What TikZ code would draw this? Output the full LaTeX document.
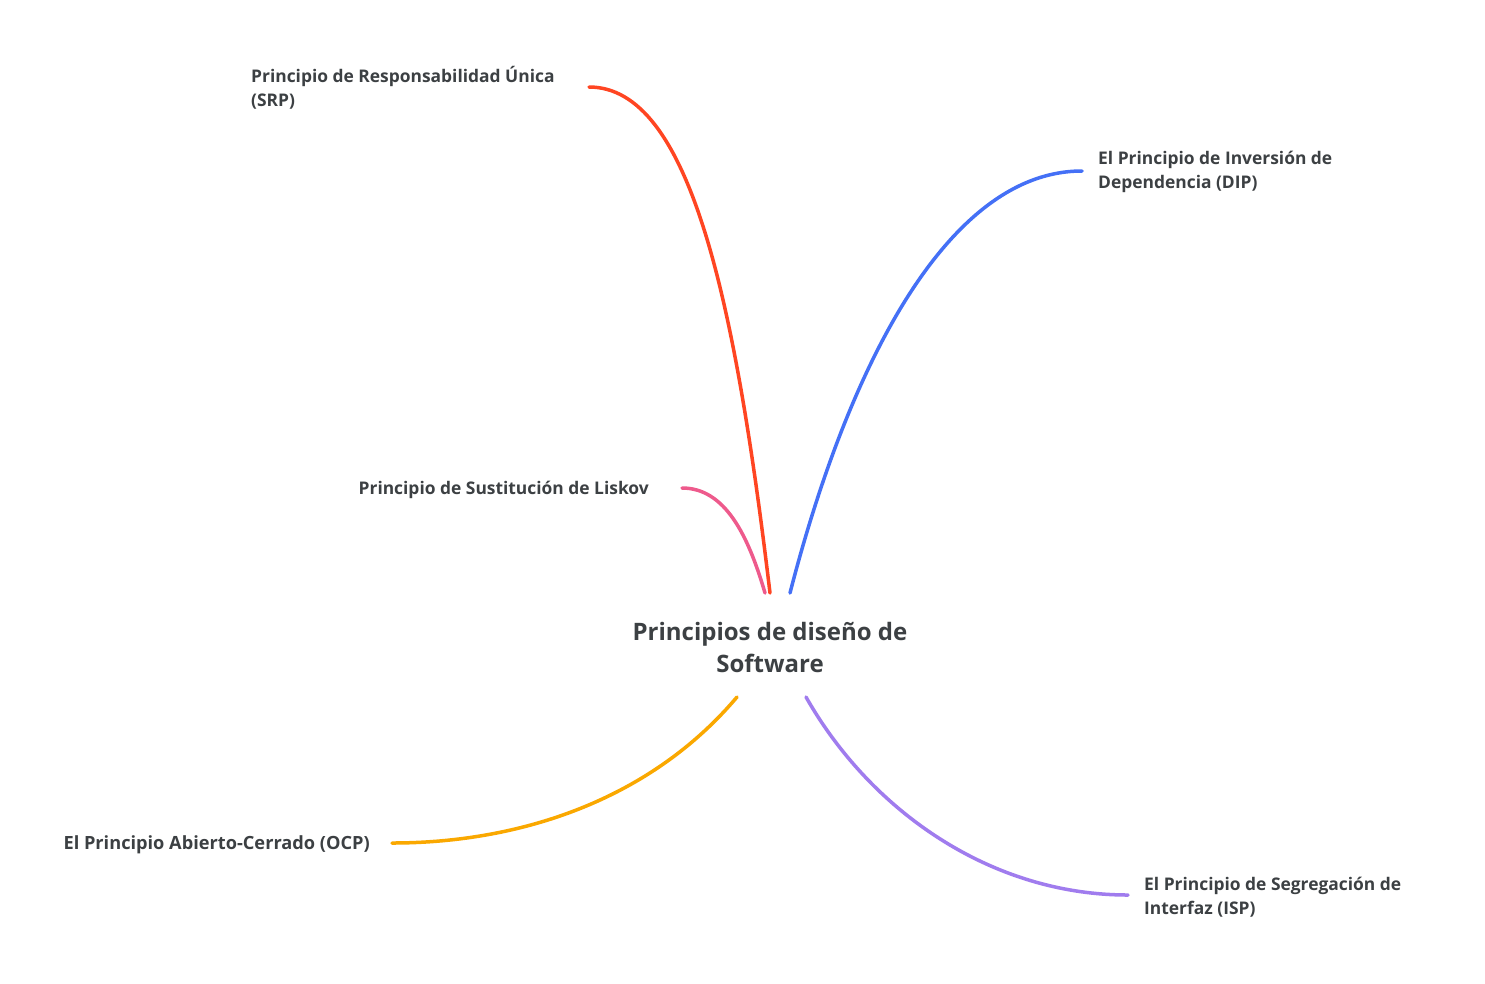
\documentclass[tikz,border=0pt]{standalone}
\usepackage{fontspec}
\setmainfont{Open Sans}
\definecolor{txt}{HTML}{3C4043}
\definecolor{cred}{HTML}{FF4522}
\definecolor{cpink}{HTML}{EE5A8C}
\definecolor{cblue}{HTML}{4470F6}
\definecolor{corange}{HTML}{FAA800}
\definecolor{cpurple}{HTML}{A07CEE}
\begin{document}
\begin{tikzpicture}[x=1pt,y=-1pt,
  lbl/.style={text=txt,font=\fontsize{17.4}{24}\selectfont\bfseries,inner sep=0pt,align=left},
  ctr/.style={text=txt,font=\fontsize{24}{32}\selectfont\bfseries,inner sep=0pt,align=center},
  br/.style={line width=3.5pt,line cap=round}]
\useasboundingbox[fill=white] (0,0) rectangle (1485,983);
\node[ctr] (c) at (770,647) {Principios de diseño de\\Software};
\coordinate (s1) at (770,593);
\coordinate (s2) at (765,593);
\coordinate (s3) at (790,593);
\coordinate (s4) at (737,697);
\coordinate (s5) at (806,697);
\coordinate (e1) at (589,87);
\coordinate (e2) at (682,488);
\coordinate (e3) at (1082,171);
\coordinate (e4) at (392,843);
\coordinate (e5) at (1128,895);
\node[lbl,anchor=west] (srp) at (251,88) {Principio de Responsabilidad Única\\(SRP)};
\node[lbl,anchor=east] (lsp) at (649,490) {Principio de Sustitución de Liskov};
\node[lbl,anchor=west] (dip) at (1098,172) {El Principio de Inversión de\\Dependencia (DIP)};
\node[lbl,anchor=east,font=\fontsize{18.2}{24}\selectfont\bfseries] (ocp) at (370,845) {El Principio Abierto-Cerrado (OCP)};
\node[lbl,anchor=west] (isp) at (1144,897) {El Principio de Segregación de\\Interfaz (ISP)};
\draw[br,cred] (s1) .. controls (735,300) and (690,87) .. (e1);
\draw[br,cpink] (s2) .. controls (748,535) and (725,488) .. (e2);
\draw[br,cblue] (s3) .. controls (850,360) and (950,171) .. (e3);
\draw[br,corange] (s4) .. controls (650,800) and (520,843) .. (e4);
\draw[br,cpurple] (s5) .. controls (870,810) and (990,895) .. (e5);
\end{tikzpicture}
\end{document}
